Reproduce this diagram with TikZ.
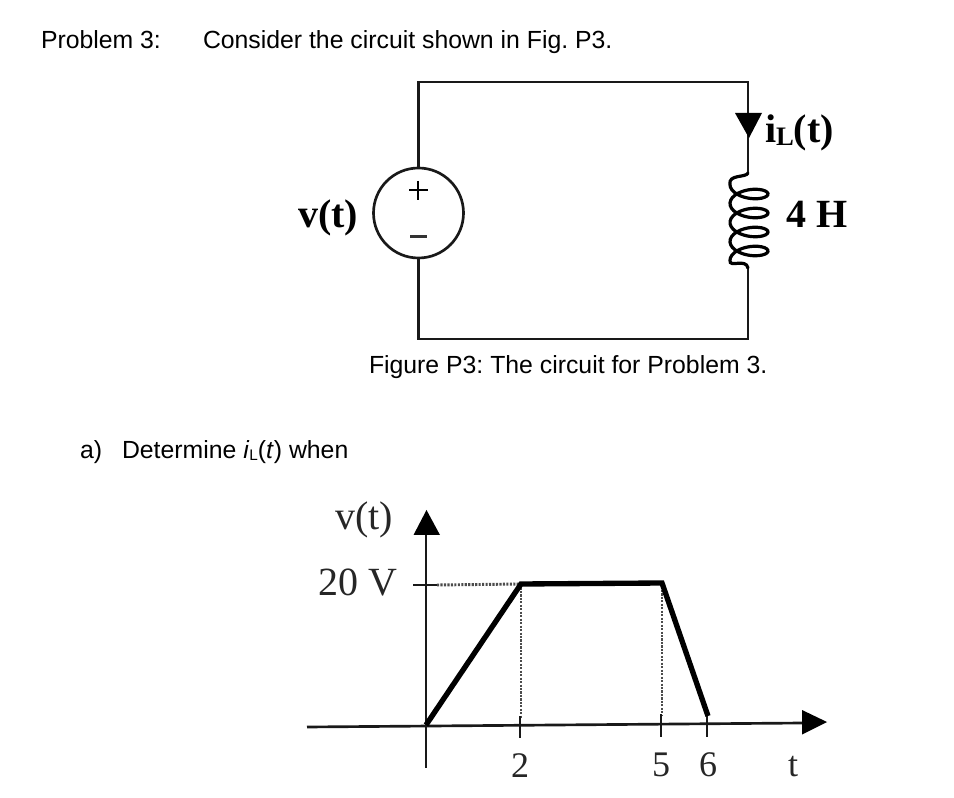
\documentclass[tikz,border=0pt]{standalone}
\usepackage{fontspec}
\setmainfont{Liberation Serif}
\newfontfamily\arialfont{Liberation Sans}
\frenchspacing
\tikzset{
  x=0.75pt,y=-0.75pt,
  prose/.style={anchor=base west,inner sep=0pt,outer sep=0pt,font=\arialfont\fontsize{18.6}{20}\selectfont},
  figlabel/.style={anchor=base,inner sep=0pt,outer sep=0pt,font=\fontsize{30}{32}\selectfont,text=black!85},
  numlabel/.style={anchor=base,inner sep=0pt,outer sep=0pt,font=\fontsize{27}{29}\selectfont,text=black!85},
  boldlabel/.style={anchor=base west,inner sep=0pt,outer sep=0pt,font=\bfseries\fontsize{30}{32}\selectfont},
  wire/.style={line width=1.8pt,black!90},
  axisline/.style={line width=2pt,black!90},
  curve/.style={line width=4pt,black,line join=miter},
  guide/.style={line width=2.2pt,black!70,dash pattern=on 1.6pt off 1pt},
  tick/.style={line width=1.8pt,black!90},
  source/.style={circle,draw=black!90,line width=2pt,minimum size=67.5pt,inner sep=0pt,outer sep=0pt},
  head/.style={fill=black,draw=none},
}
\begin{document}
\begin{tikzpicture}
\useasboundingbox (0,0) rectangle (954,798);
% text
\node[prose] (title) at (41,49) {Problem 3:};
\node[prose] (consider) at (203,49) {Consider the circuit shown in Fig. P3.};
\node[prose] (caption) at (369,374) {Figure P3: The circuit for Problem 3.};
\node[prose] (parta) at (80,459) {a)};
\node[prose] (determine) at (122,459) {Determine \textit{i}{\fontsize{11.5}{12}\selectfont\raisebox{-1.5pt}{L}}(\textit{t}) when};
% circuit
\node[source] (src) at (418.5,213) {};
\draw[line width=1.8pt,black] (418,181) -- (418,200);
\draw[line width=1.8pt,black] (409,190) -- (428,190);
\draw[line width=1.8pt,black!80] (410,236.5) -- (427,236.5);
\coordinate (tr) at (748,82);
\coordinate (br) at (748,339);
\coordinate (coilTop) at (748,173);
\coordinate (coilBot) at (748,268);
\draw[wire] (src.north) |- (tr) -- (coilTop);
\draw[wire] (src.south) |- (br) -- (coilBot);
\fill[head] (735,113) -- (762,113) -- (749,138) -- cycle;
\draw[line width=2.4pt,black,line cap=round] (coilTop) .. controls (746,178) and (728,174) .. (730,184.5)
  plot[smooth,domain=-3.1416:21.99,samples=110,variable=\t]
  ({749+19*cos(\t r)},{194+19*\t/6.2832-9*sin(\t r)})
  .. controls (729,268) and (746,258) .. (coilBot);
\node[boldlabel] (vlabel) at (298,228) {v(t)};
\node[boldlabel] (ilabel) at (765,143) {i{\fontsize{20}{21}\selectfont\raisebox{-2pt}{L}}(t)};
\node[boldlabel] (hlabel) at (786,228) {4 H};
% graph
\coordinate (origin) at (426,725);
\coordinate (yTop) at (426,535);
\coordinate (yBot) at (426,768);
\coordinate (xLeft) at (307,727);
\coordinate (xRight) at (803,723);
\coordinate (p2) at (521,584);
\coordinate (p5) at (662,583);
\coordinate (p6) at (708,716);
\draw[axisline] (yTop) -- (yBot);
\draw[axisline] (xLeft) -- (xRight);
\fill[head] (426.5,510) -- (440,535) -- (413.5,535) -- cycle;
\fill[head] (802,710) -- (827,722) -- (802,734.5) -- cycle;
\draw[tick] (413,585) -- (437,585);
\draw[guide] (437,585) -- (p2);
\draw[guide] (p2) -- (521,718);
\draw[guide] (p5) -- (662,716);
\draw[tick] (520,716) -- (520,738);
\draw[tick] (661,714) -- (661,737);
\draw[tick] (707,714) -- (707,737);
\draw[curve] (origin) -- (p2) -- (p5) -- (p6);
\node[figlabel] (vt) at (364,530) {v(t)};
\node[figlabel] (twenty) at (358,595) {20 V};
\node[numlabel] (two) at (520,777) {2};
\node[numlabel] (five) at (661,776) {5};
\node[numlabel] (six) at (708,776) {6};
\node[numlabel] (tee) at (793,776) {t};
\end{tikzpicture}
\end{document}
